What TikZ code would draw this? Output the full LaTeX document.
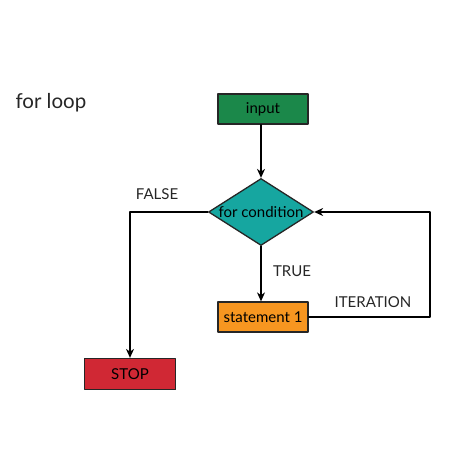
\documentclass[tikz,border=0pt]{standalone}
\usepackage{fontspec}
\setmainfont{Lato}
\usetikzlibrary{shapes.geometric}
\usetikzlibrary{arrows.meta}

\definecolor{inputgreen}{RGB}{27,136,74}
\definecolor{condteal}{RGB}{22,166,160}
\definecolor{stmtorange}{RGB}{247,150,32}
\definecolor{stopred}{RGB}{208,40,52}

\begin{document}
\begin{tikzpicture}[x=1pt, y=-1pt, line cap=round, line join=round, >={Stealth[length=9pt,width=8pt]},
  box/.style={draw=black!85, line width=1.3pt, minimum width=90pt, minimum height=30pt, inner sep=0pt, font=\fontsize{15}{17}\selectfont},
  lbl/.style={text=black!85, font=\fontsize{15}{17}\selectfont}]
  \useasboundingbox (0,0) rectangle (474,474);
  \node[anchor=west, text=black!85, font=\fontsize{20.5}{23}\selectfont] (title) at (12,103) {for loop};
  \node[box, fill=inputgreen] (input) at (263,109) {input};
  \node[draw=black!85, line width=1.3pt, fill=condteal, diamond, aspect=1.57, inner sep=0pt,
        minimum width=105pt, minimum height=67pt, font=\fontsize{15}{17}\selectfont] (cond) at (261,212) {for condition};
  \node[box, fill=stmtorange] (stmt) at (263,317) {statement 1};
  \node[box, minimum width=91pt, minimum height=31pt, fill=stopred] (stop) at (130,374) {STOP};
  \coordinate (falsecorner) at (130,212);
  \coordinate (itbottom) at (430,317);
  \coordinate (ittop) at (430,212);
  \draw[line width=1.1pt, ->] (input.south -| cond.north) -- (cond.north);
  \draw[line width=1.1pt, ->] (cond.west) -- (falsecorner) -- (stop.north);
  \draw[line width=1.1pt, ->] (cond.south) -- (stmt.north -| cond.south);
  \draw[line width=1.1pt, ->] (stmt.east) -- (itbottom) -- (ittop) -- (cond.east);
  \node[lbl] (falselbl) at (157,194) {FALSE};
  \node[lbl] (truelbl) at (292,271) {TRUE};
  \node[lbl] (iterlbl) at (373,302) {ITERATION};
\end{tikzpicture}
\end{document}
